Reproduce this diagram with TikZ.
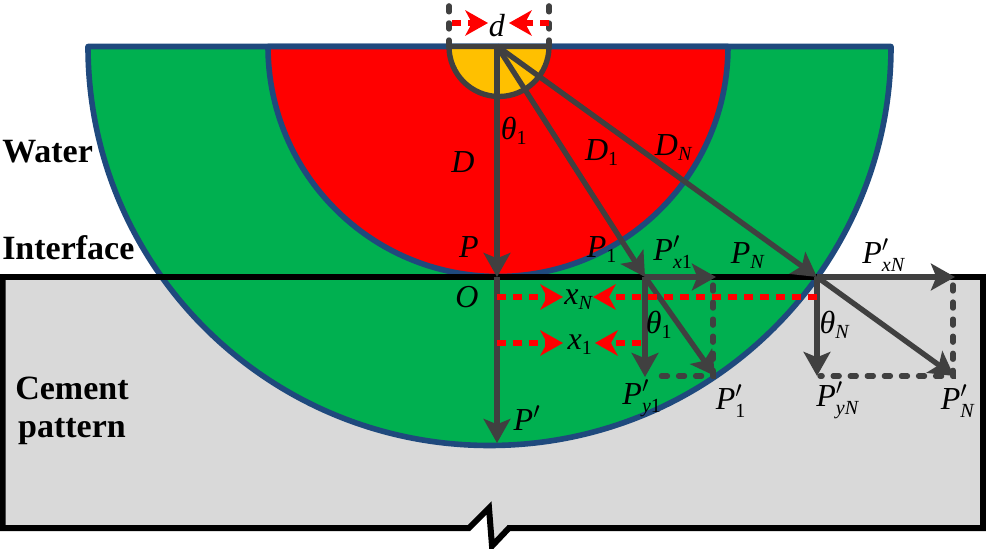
\documentclass[tikz,border=0pt]{standalone}
\usepackage{amsmath}
\usepackage{fontspec}
\setmainfont{Liberation Serif}
\usetikzlibrary{arrows.meta}
\usetikzlibrary{positioning}
\definecolor{rimblue}{HTML}{1F497D}
\definecolor{waveGray}{HTML}{404040}
\definecolor{nearGreen}{HTML}{00B050}
\definecolor{coreYellow}{HTML}{FFC000}
\definecolor{cementGray}{HTML}{D9D9D9}
\newcommand{\subfont}{\fontsize{15}{15}\selectfont}
\newcommand{\plab}[2]{\textit{#1}$'_{\text{\subfont #2}}$}
\newcommand{\slab}[2]{\textit{#1}$_{\text{\subfont #2}}$}
\tikzset{
wave/.style={ % gray arrows
draw=waveGray,
line width=4pt,
-{Stealth[length=18pt,width=20pt,inset=4pt]}},
proj/.style={ % gray dashes
draw=waveGray,
line width=4pt,
line cap=round,
dash pattern=on 4.5pt off 8.3pt},
span/.style={ % red dashes with arrow tip
draw=red,
line width=4pt,
dash pattern=on 7pt off 5pt,
-{Stealth[length=17pt,width=19pt,inset=5pt]}},
rim/.style={draw=rimblue,line width=4.2pt,line join=round},
lab/.style={font=\fontsize{24}{26}\selectfont,inner sep=0pt},
head/.style={font=\fontsize{25.5}{27}\selectfont\bfseries,inner sep=0pt,align=center}}

\begin{document}
\begin{tikzpicture}[x=0.75pt,y=-0.75pt]
  \useasboundingbox (0,0) rectangle (986,549);
  \coordinate (S)  at (497,46);
  \coordinate (O)  at (497,277);
  \coordinate (A1) at (645,277);
  \coordinate (AN) at (817,277);
  % cement with the break
  \path[fill=cementGray,draw=black,line width=4.5pt,line join=miter]
    (2.5,277) -- (2.5,528) -- (469,528) -- (489,508) -- (492,546) -- (509,528)
    -- (983,528) -- (983,277);
  % half discs
  \path[fill=nearGreen,rim]
    (88,46.5) arc[start angle=180,end angle=360,x radius=401.5,y radius=-399] -- cycle;
  \path[fill=red,rim]
    (268,46.5) arc[start angle=180,end angle=360,x radius=230,y radius=-230] -- cycle;
  \path[fill=coreYellow,draw=waveGray,line width=4pt]
    (449,46.5) arc[start angle=180,end angle=360,x radius=50,y radius=-50] -- cycle;
  \draw[black,line width=4.5pt] (0,277) -- (986,277);
  % waves
  \coordinate (Q)   at (497,443);
  \coordinate (X1)  at (716,277);
  \coordinate (Y1)  at (645,377);
  \coordinate (R1)  at (715,376);
  \coordinate (XN)  at (955,277);
  \coordinate (YN)  at (817,376);
  \coordinate (RN)  at (954,376);
  \draw[wave] (S) -- (O);
  \draw[wave] (O) -- (Q);
  \draw[wave] (S) -- (A1);
  \draw[wave] (S) -- (AN);
  \draw[wave] (A1) -- (X1);
  \draw[wave] (A1) -- (Y1);
  \draw[wave] (A1) -- (R1);
  \draw[wave] (AN) -- (XN);
  \draw[wave] (AN) -- (YN);
  \draw[wave] (AN) -- (RN);
  % dashed boxes
  \draw[proj] (713,285) -- (713,376) -- (655,376);
  \draw[proj] (953,285) -- (953,376) -- (820,376);
  \draw[proj] (449,46) -- (449,2);
  \draw[proj] (549,46) -- (549,2);
  % spans
  \draw[span] (452,23) -- (488,23);
  \draw[span] (549,23) -- (509,23);
  \draw[span] (497,297) -- (563,297);
  \draw[span] (817,297) -- (593,297);
  \draw[span] (497,343) -- (563,343);
  \draw[span] (641,343) -- (595,343);
  % labels
  \node[lab] (dlab)   at (497,26)  {\textit{d}};
  \node[lab] (tlab)   at (514,131) {\slab{θ}{1}};
  \node[lab] (Dlab)   at (463,162) {\textit{D}};
  \node[lab] (D1lab)  at (602,153) {\slab{D}{1}};
  \node[lab] (DNlab)  at (674,148) {\slab{D}{\textit{N}}};
  \node[lab] (Plab)   at (469,247) {\textit{P}};
  \node[lab] (P1lab)  at (602,250) {\slab{P}{1}};
  \node[lab] (Px1lab) at (673,252) {\plab{P}{\textit{x}1}};
  \node[lab] (PNlab)  at (748,256) {\slab{P}{\textit{N}}};
  \node[lab] (PxNlab) at (884,255) {\plab{P}{\textit{xN}}};
  \node[lab] (Olab)   at (467,297) {\textit{O}};
  \node[lab] (xNlab)  at (579,300) {\slab{x}{\textit{N}}};
  \node[lab] (x1lab)  at (580,345) {\slab{x}{1}};
  \node[lab] (t1lab)  at (659,325) {\slab{θ}{1}};
  \node[lab] (tNlab)  at (835,325) {\slab{θ}{\textit{N}}};
  \node[lab] (Py1lab) at (642,398) {\plab{P}{\textit{y}1}};
  \node[lab] (R1lab)  at (731,401) {\plab{P}{1}};
  \node[lab] (PyNlab) at (838,400) {\plab{P}{\textit{yN}}};
  \node[lab] (RNlab)  at (958,401) {\plab{P}{\textit{N}}};
  \node[lab] (Qlab)   at (527,418) {\textit{P}$'$};
  \node[head,anchor=west] (water)  at (2,152)  {Water};
  \node[head,anchor=west] (iface)  at (2,248)  {Interface};
  \node[head] (cement) at (72,388) {Cement};
  \node[head] (pattern) [below=14pt of cement] {pattern};
\end{tikzpicture}
\end{document}
